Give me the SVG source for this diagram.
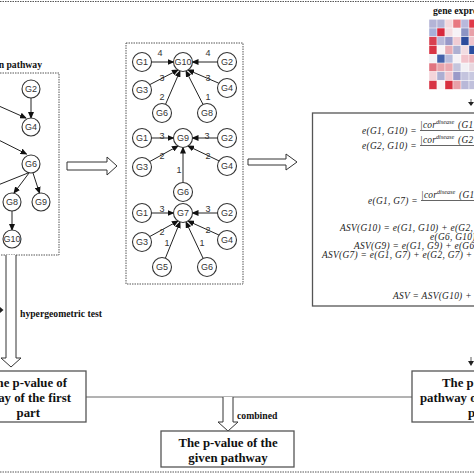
<svg xmlns="http://www.w3.org/2000/svg" width="474" height="474" viewBox="0 0 474 474">
<defs>
<marker id="ah" markerUnits="userSpaceOnUse" markerWidth="7" markerHeight="6" refX="6" refY="3" orient="auto">
<path d="M0,0 L7,3 L0,6 z" fill="#111"/>
</marker>
<style>
.nd{fill:#fff;stroke:#333;stroke-width:1.1}
.nt{font-family:"Liberation Sans",Arial,sans-serif;font-size:9px;fill:#333;text-anchor:middle;dominant-baseline:central}
.w{font-family:"Liberation Sans",Arial,sans-serif;font-size:9px;fill:#333;text-anchor:middle}
.e{stroke:#222;stroke-width:1;fill:none;marker-end:url(#ah)}
.el{stroke:#222;stroke-width:1;fill:none}
.dot{fill:none;stroke:#555;stroke-width:1;stroke-dasharray:1.5 1}
.lbl{font-family:"Liberation Serif","Times New Roman",serif;font-weight:bold;font-size:9.7px;fill:#111}
.bt{font-family:"Liberation Serif","Times New Roman",serif;font-weight:bold;font-size:12.8px;fill:#111}
.f{font-family:"Liberation Serif","Times New Roman",serif;font-style:italic;font-size:9.4px;fill:#222;letter-spacing:0.3px}
.fs{font-family:"Liberation Serif","Times New Roman",serif;font-style:italic;font-size:6.2px;fill:#222}
.hol{fill:#fff;stroke:#333;stroke-width:1}
.box{fill:#fff;stroke:#555;stroke-width:1.3}
</style>
</defs>
<rect width="474" height="474" fill="#fff"/>
<line x1="0" y1="1.5" x2="474" y2="1.5" class="dot" stroke-width="1.5"/>
<line x1="0" y1="472" x2="474" y2="472" class="dot" stroke-width="1.5"/>

<!-- left panel -->
<text x="42" y="68" class="lbl" text-anchor="end" font-size="10">given pathway</text>
<rect x="-10" y="73" width="69" height="182" class="dot"/>

<!-- middle panel -->
<rect x="126" y="43" width="117" height="241" class="dot"/>

<!-- heatmap -->
<text x="433" y="14" class="lbl" font-size="10">gene expression</text>
<g id="heatmap" stroke="#fff" stroke-width="0.4">
<rect x="429" y="19.3" width="8" height="8.75" fill="#b4b4d6"/><rect x="437" y="19.3" width="8" height="8.75" fill="#b4b4d6"/><rect x="445" y="19.3" width="8" height="8.75" fill="#f4d8dc"/><rect x="453" y="19.3" width="8" height="8.75" fill="#e87880"/><rect x="461" y="19.3" width="8" height="8.75" fill="#b8b8dc"/><rect x="469" y="19.3" width="8" height="8.75" fill="#e03848"/>
<rect x="429" y="28.05" width="8" height="8.75" fill="#a8b0d8"/><rect x="437" y="28.05" width="8" height="8.75" fill="#d8283c"/><rect x="445" y="28.05" width="8" height="8.75" fill="#f4dce0"/><rect x="453" y="28.05" width="8" height="8.75" fill="#f6f2f6"/><rect x="461" y="28.05" width="8" height="8.75" fill="#8c94c4"/><rect x="469" y="28.05" width="8" height="8.75" fill="#e8a0a8"/>
<rect x="429" y="36.8" width="8" height="8.75" fill="#d84050"/><rect x="437" y="36.8" width="8" height="8.75" fill="#b8b8d8"/><rect x="445" y="36.8" width="8" height="8.75" fill="#9898c8"/><rect x="453" y="36.8" width="8" height="8.75" fill="#f0ccd4"/><rect x="461" y="36.8" width="8" height="8.75" fill="#2c4c9c"/><rect x="469" y="36.8" width="8" height="8.75" fill="#f0c4cc"/>
<rect x="429" y="45.55" width="8" height="8.75" fill="#d83444"/><rect x="437" y="45.55" width="8" height="8.75" fill="#f8f4f6"/><rect x="445" y="45.55" width="8" height="8.75" fill="#e8acb4"/><rect x="453" y="45.55" width="8" height="8.75" fill="#aeb0d2"/><rect x="461" y="45.55" width="8" height="8.75" fill="#f2dce2"/><rect x="469" y="45.55" width="8" height="8.75" fill="#2c4ea0"/>
<rect x="429" y="54.3" width="8" height="8.75" fill="#f2f2f6"/><rect x="437" y="54.3" width="8" height="8.75" fill="#4462aa"/><rect x="445" y="54.3" width="8" height="8.75" fill="#b8bcdc"/><rect x="453" y="54.3" width="8" height="8.75" fill="#f6f2f6"/><rect x="461" y="54.3" width="8" height="8.75" fill="#f2c4cc"/><rect x="469" y="54.3" width="8" height="8.75" fill="#eeb4bc"/>
<rect x="429" y="63.05" width="8" height="8.75" fill="#e07480"/><rect x="437" y="63.05" width="8" height="8.75" fill="#e8a4ac"/><rect x="445" y="63.05" width="8" height="8.75" fill="#eaa8b0"/><rect x="453" y="63.05" width="8" height="8.75" fill="#c4c4dc"/><rect x="461" y="63.05" width="8" height="8.75" fill="#f2f0f4"/><rect x="469" y="63.05" width="8" height="8.75" fill="#e8d8e0"/>
<rect x="429" y="71.8" width="8" height="8.75" fill="#f4d4da"/><rect x="437" y="71.8" width="8" height="8.75" fill="#acaed2"/><rect x="445" y="71.8" width="8" height="8.75" fill="#f0c8d0"/><rect x="453" y="71.8" width="8" height="8.75" fill="#9a9ac8"/><rect x="461" y="71.8" width="8" height="8.75" fill="#c4c4de"/><rect x="469" y="71.8" width="8" height="8.75" fill="#c8c8e0"/>
<rect x="429" y="80.55" width="8" height="8.75" fill="#d83444"/><rect x="437" y="80.55" width="8" height="8.75" fill="#faf4f4"/><rect x="445" y="80.55" width="8" height="8.75" fill="#d8303e"/><rect x="453" y="80.55" width="8" height="8.75" fill="#e8a0a8"/><rect x="461" y="80.55" width="8" height="8.75" fill="#b8b8d8"/><rect x="469" y="80.55" width="8" height="8.75" fill="#c0c0dc"/>
</g>

<!-- formula box -->
<g id="formulas">
<rect x="312.5" y="113" width="200" height="193" class="box"/>
<text x="417" y="134" class="f" text-anchor="end">e(G1, G10) =</text>
<line x1="420" y1="130.5" x2="474" y2="130.5" stroke="#222" stroke-width="0.7"/>
<text x="420" y="128" class="f">|cor</text><text x="436" y="123.5" class="fs">disease</text><text x="458" y="128" class="f">(G1</text>
<text x="417" y="149" class="f" text-anchor="end">e(G2, G10) =</text>
<line x1="420" y1="145.5" x2="474" y2="145.5" stroke="#222" stroke-width="0.7"/>
<text x="420" y="143" class="f">|cor</text><text x="436" y="138.5" class="fs">disease</text><text x="458" y="143" class="f">(G2</text>
<text x="418" y="204" class="f" text-anchor="end">e(G1, G7) =</text>
<line x1="421" y1="200.5" x2="474" y2="200.5" stroke="#222" stroke-width="0.7"/>
<text x="421" y="198" class="f">|cor</text><text x="437" y="193.5" class="fs">disease</text><text x="459" y="198" class="f">(G1</text>
<text x="340" y="230.5" class="f">ASV(G10) = e(G1, G10) + e(G2,</text>
<text x="430" y="239.5" class="f">e(G6, G10)+</text>
<text x="354" y="248.5" class="f">ASV(G9) = e(G1, G9) + e(G6</text>
<text x="322" y="257.5" class="f">ASV(G7) = e(G1, G7) + e(G2, G7) + e</text>
<text x="393" y="299" class="f">ASV = ASV(G10) +</text>
</g>
<path d="M471,99 L471,105" stroke="#333" stroke-width="0.8"/><path d="M468,102 L474,102 L471,106 z" fill="#222"/>
<path d="M471,357 L471,363" stroke="#333" stroke-width="0.8"/><path d="M468,361 L474,361 L471,366 z" fill="#222"/>
<path d="M0,307 L3.5,310 L0,313 z" fill="#222"/>

<!-- connectors -->
<g id="connectors">
<line x1="31" y1="98" x2="31" y2="118" class="e"/>
<line x1="-2" y1="105.6" x2="26" y2="118" class="e"/>
<line x1="-2" y1="139.7" x2="26.5" y2="154" class="e"/>
<line x1="28" y1="173" x2="-2" y2="185" class="el"/>
<line x1="29" y1="173" x2="14" y2="193" class="e"/>
<line x1="33" y1="173" x2="39.5" y2="193" class="e"/>
<line x1="12" y1="211" x2="12" y2="230" class="e"/>

<line x1="151.5" y1="62" x2="173.5" y2="62" class="e"/>
<line x1="217.5" y1="62" x2="192.5" y2="62" class="e"/>
<line x1="149.8" y1="84.6" x2="178" y2="70" class="e"/>
<line x1="218.8" y1="83.2" x2="188" y2="70" class="e"/>
<line x1="165.6" y1="104.2" x2="180" y2="71" class="e"/>
<line x1="203" y1="104.4" x2="186" y2="71" class="e"/>

<line x1="151.5" y1="138" x2="173.5" y2="138" class="e"/>
<line x1="217.5" y1="138" x2="192.5" y2="138" class="e"/>
<line x1="149.8" y1="161.5" x2="178" y2="146" class="e"/>
<line x1="219" y1="160.9" x2="188" y2="146" class="e"/>
<line x1="183" y1="182.5" x2="183" y2="147.5" class="e" stroke-width="1.6"/>

<line x1="151.5" y1="213" x2="173.5" y2="213" class="e"/>
<line x1="217.5" y1="213" x2="192.5" y2="213" class="e"/>
<line x1="149.8" y1="236.5" x2="178" y2="221" class="e"/>
<line x1="218.9" y1="235" x2="188" y2="221" class="e"/>
<line x1="165.4" y1="258.1" x2="180" y2="222" class="e"/>
<line x1="203.1" y1="258.3" x2="186" y2="222" class="e"/>

<line x1="86" y1="397" x2="412" y2="397" stroke="#666" stroke-width="1"/>
<path class="hol" d="M67,162 H107 V157 L117,166 L107,175 V170 H67 Z"/>
<path class="hol" d="M248,159 H286 V154 L297,162 L286,170 V165 H248 Z"/>
<path class="hol" d="M6,255 V358 H1 L11,367 L21,358 H16 V255"/>
<path class="hol" d="M223,397 V422 H218 L228,431 L238,422 H233 V397"/>
</g>

<!-- edge weights -->
<g id="weights">
<text x="160" y="56" class="w">4</text><text x="208" y="56" class="w">4</text>
<text x="162" y="81" class="w">3</text><text x="208" y="81" class="w">3</text>
<text x="162" y="100" class="w">2</text><text x="208" y="100" class="w">1</text>
<text x="162" y="139" class="w">3</text><text x="207" y="139" class="w">3</text>
<text x="162" y="159" class="w">2</text><text x="208" y="159" class="w">2</text>
<text x="179" y="173" class="w">1</text>
<text x="162" y="212" class="w">3</text><text x="208" y="212" class="w">3</text>
<text x="162" y="235" class="w">2</text><text x="208" y="233" class="w">2</text>
<text x="167" y="246" class="w">1</text><text x="202" y="246" class="w">1</text>
</g>

<!-- left nodes -->
<g id="L-G2"><circle cx="31" cy="89" r="9" class="nd"/><text x="31" y="89" class="nt">G2</text></g>
<g id="L-G4"><circle cx="31" cy="127" r="9" class="nd"/><text x="31" y="127" class="nt">G4</text></g>
<g id="L-G6"><circle cx="31" cy="164" r="9" class="nd"/><text x="31" y="164" class="nt">G6</text></g>
<g id="L-G8"><circle cx="12" cy="202" r="9" class="nd"/><text x="12" y="202" class="nt">G8</text></g>
<g id="L-G9"><circle cx="41" cy="202" r="9" class="nd"/><text x="41" y="202" class="nt">G9</text></g>
<g id="L-G10"><circle cx="12" cy="239" r="9" class="nd"/><text x="12" y="239" class="nt">G10</text></g>

<!-- middle nodes -->
<g id="A-G1"><circle cx="142" cy="62" r="9.5" class="nd"/><text x="142" y="62" class="nt">G1</text></g>
<g id="A-G10"><circle cx="183" cy="62" r="9.5" class="nd"/><text x="183" y="62" class="nt">G10</text></g>
<g id="A-G2"><circle cx="227" cy="62" r="9.5" class="nd"/><text x="227" y="62" class="nt">G2</text></g>
<g id="A-G3"><circle cx="142" cy="90" r="9.5" class="nd"/><text x="142" y="90" class="nt">G3</text></g>
<g id="A-G4"><circle cx="227" cy="88" r="9.5" class="nd"/><text x="227" y="88" class="nt">G4</text></g>
<g id="A-G6"><circle cx="162" cy="113" r="9.5" class="nd"/><text x="162" y="113" class="nt">G6</text></g>
<g id="A-G8"><circle cx="207" cy="113" r="9.5" class="nd"/><text x="207" y="113" class="nt">G8</text></g>

<g id="B-G1"><circle cx="142" cy="138" r="9.5" class="nd"/><text x="142" y="138" class="nt">G1</text></g>
<g id="B-G9"><circle cx="183" cy="138" r="9.5" class="nd"/><text x="183" y="138" class="nt">G9</text></g>
<g id="B-G2"><circle cx="227" cy="138" r="9.5" class="nd"/><text x="227" y="138" class="nt">G2</text></g>
<g id="B-G3"><circle cx="142" cy="167" r="9.5" class="nd"/><text x="142" y="167" class="nt">G3</text></g>
<g id="B-G4"><circle cx="227" cy="166" r="9.5" class="nd"/><text x="227" y="166" class="nt">G4</text></g>
<g id="B-G6"><circle cx="183" cy="192" r="9.5" class="nd"/><text x="183" y="192" class="nt">G6</text></g>

<g id="C-G1"><circle cx="142" cy="213" r="9.5" class="nd"/><text x="142" y="213" class="nt">G1</text></g>
<g id="C-G7"><circle cx="183" cy="213" r="9.5" class="nd"/><text x="183" y="213" class="nt">G7</text></g>
<g id="C-G2"><circle cx="227" cy="213" r="9.5" class="nd"/><text x="227" y="213" class="nt">G2</text></g>
<g id="C-G3"><circle cx="142" cy="242" r="9.5" class="nd"/><text x="142" y="242" class="nt">G3</text></g>
<g id="C-G4"><circle cx="227" cy="240" r="9.5" class="nd"/><text x="227" y="240" class="nt">G4</text></g>
<g id="C-G5"><circle cx="162" cy="267" r="9.5" class="nd"/><text x="162" y="267" class="nt">G5</text></g>
<g id="C-G6"><circle cx="207" cy="267" r="9.5" class="nd"/><text x="207" y="267" class="nt">G6</text></g>

<!-- labels -->
<text x="20" y="317" class="lbl">hypergeometric test</text>
<text x="237" y="419" class="lbl" font-size="9">combined</text>

<!-- result boxes -->
<g id="box-first">
<rect x="-30" y="371" width="116" height="51" class="box"/>
<text x="67" y="387" class="bt" text-anchor="end">The p-value of</text>
<text x="71" y="402" class="bt" text-anchor="end">pathway of the first</text>
<text x="40" y="417" class="bt" text-anchor="end">part</text>
</g>
<g id="box-second">
<rect x="412" y="371" width="120" height="51" class="box"/>
<text x="442" y="387" class="bt">The p-value of</text>
<text x="420" y="402" class="bt">pathway of the second</text>
<text x="468" y="417" class="bt">part</text>
</g>
<g id="box-given">
<rect x="161" y="431" width="133" height="36" class="box"/>
<text x="228" y="447" class="bt" text-anchor="middle">The p-value of the</text>
<text x="228" y="462" class="bt" text-anchor="middle">given pathway</text>
</g>
</svg>
